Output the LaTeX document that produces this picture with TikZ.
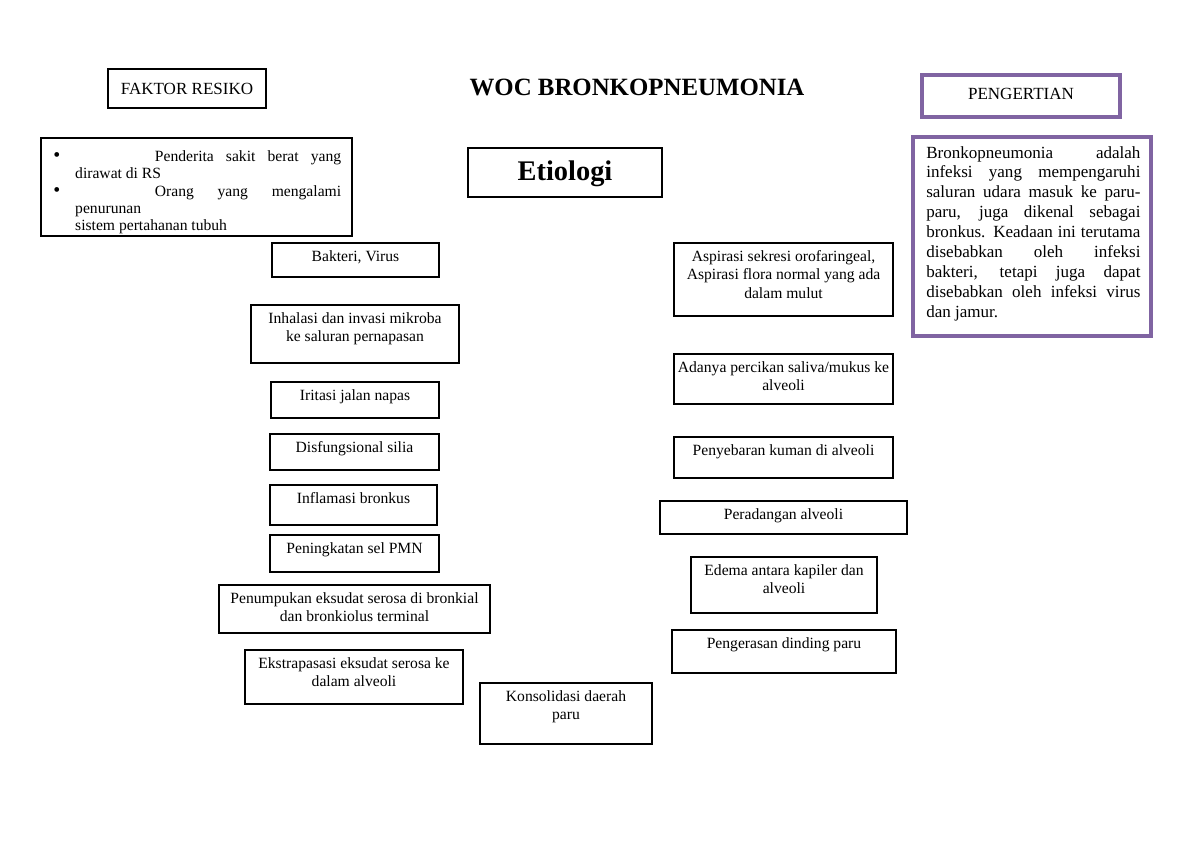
\documentclass[tikz,border=0pt]{standalone}
\usepackage{fontspec}
\setmainfont{Liberation Serif}
\usetikzlibrary{fit}
\definecolor{ungu}{RGB}{128,100,162}
\newlength\pxu \setlength\pxu{0.7015pt}
\newcommand{\butir}{\makebox[102\pxu][l]{\fontsize{14}{12.3}\selectfont\textbullet}}
\tikzset{
  box/.style={draw, line width=0.9pt, inner sep=0pt},
  pbox/.style={draw=ungu, line width=2.2pt, inner sep=0pt},
  txt/.style={anchor=north, yshift=-3.5pt, inner sep=2pt, align=center, font=\fontsize{11}{13}\selectfont},
  hdr/.style={anchor=north, yshift=-8pt, inner sep=2pt, font=\fontsize{12}{14}\selectfont},
  para/.style={anchor=north west, inner sep=0pt, align=left}
}
\begin{document}
\begin{tikzpicture}[x=0.02475cm, y=-0.02475cm]
\useasboundingbox (0,0) rectangle (1200,848);
\node[font=\bfseries\fontsize{17.5}{20}\selectfont] (judul) at (637,87) {WOC BRONKOPNEUMONIA};
\node[box, line width=1pt, fit={(468,148) (662,197)}, label={[font=\bfseries\fontsize{20}{24}\selectfont, anchor=center, yshift=-1pt]center:Etiologi}] (etiologi) {};
% faktor resiko
\node[box, fit={(108,69) (266,108)}, label={[hdr]north:FAKTOR RESIKO}] (faktor) {};
\node[box, line width=1.4pt, fit={(41,138) (352,236)}] (risiko) {};
\node[para, font=\fontsize{11}{12.3}\selectfont] (risikoteks) at (53,150) {%
  \butir\makebox[187\pxu][s]{Penderita sakit berat yang}\\
  \hspace*{22\pxu}dirawat di RS\\
  \butir\makebox[187\pxu][s]{Orang yang mengalami}\\
  \hspace*{22\pxu}penurunan\\
  \hspace*{22\pxu}sistem pertahanan tubuh};
% pengertian
\node[pbox, fit={(922,75) (1120,117)}, label={[hdr]north:PENGERTIAN}] (pengertian) {};
\node[pbox, fit={(913,137) (1151,336)}] (definisi) {};
\node[para, font=\fontsize{12}{14}\selectfont] (definisiteks) at (926,146) {%
  \makebox[215\pxu][s]{Bronkopneumonia adalah}\\
  \makebox[215\pxu][s]{infeksi yang mempengaruhi}\\
  \makebox[215\pxu][s]{saluran udara masuk ke paru-}\\
  \makebox[215\pxu][s]{paru, juga dikenal sebagai}\\
  \makebox[215\pxu][s]{bronkus. Keadaan ini terutama}\\
  \makebox[215\pxu][s]{disebabkan oleh infeksi}\\
  \makebox[215\pxu][s]{bakteri, tetapi juga dapat}\\
  \makebox[215\pxu][s]{disebabkan oleh infeksi virus}\\
  dan jamur.};
% kolom kiri
\node[box, fit={(272,243) (439,277)}, label={[txt]north:{Bakteri, Virus}}] (bakteri) {};
\node[box, fit={(251,305) (459,363)}, label={[txt]north:{Inhalasi dan invasi mikroba\\ke saluran pernapasan}}] (inhalasi) {};
\node[box, fit={(271,382) (439,418)}, label={[txt]north:{Iritasi jalan napas}}] (iritasi) {};
\node[box, fit={(270,434) (439,470)}, label={[txt]north:{Disfungsional silia}}] (silia) {};
\node[box, fit={(270,485) (437,525)}, label={[txt]north:{Inflamasi bronkus}}] (inflamasi) {};
\node[box, fit={(270,535) (439,572)}, label={[txt]north:{Peningkatan sel PMN}}] (pmn) {};
\node[box, fit={(219,585) (490,633)}, label={[txt]north:{Penumpukan eksudat serosa di bronkial\\dan bronkiolus terminal}}] (penumpukan) {};
\node[box, fit={(245,650) (463,704)}, label={[txt]north:{Ekstrapasasi eksudat serosa ke\\dalam alveoli}}] (ekstrapasasi) {};
\node[box, fit={(480,683) (652,744)}, label={[txt]north:{Konsolidasi daerah\\paru}}] (konsolidasi) {};
% kolom kanan
\node[box, fit={(674,243) (893,316)}, label={[txt]north:{Aspirasi sekresi orofaringeal,\\Aspirasi flora normal yang ada\\dalam mulut}}] (aspirasi) {};
\node[box, fit={(674,354) (893,404)}, label={[txt]north:{Adanya percikan saliva/mukus ke\\alveoli}}] (percikan) {};
\node[box, fit={(674,437) (893,478)}, label={[txt]north:{Penyebaran kuman di alveoli}}] (penyebaran) {};
\node[box, fit={(660,501) (907,534)}, label={[txt]north:{Peradangan alveoli}}] (peradangan) {};
\node[box, fit={(691,557) (877,613)}, label={[txt]north:{Edema antara kapiler dan\\alveoli}}] (edema) {};
\node[box, fit={(672,630) (896,673)}, label={[txt]north:{Pengerasan dinding paru}}] (pengerasan) {};
\end{tikzpicture}
\end{document}
